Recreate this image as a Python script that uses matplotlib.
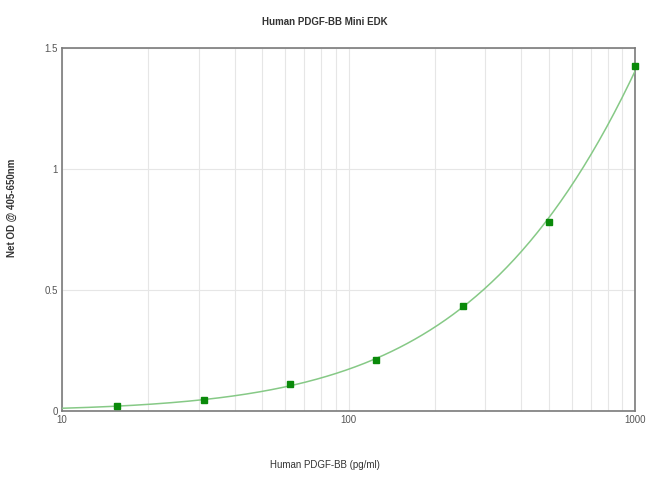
import numpy as np
import matplotlib
matplotlib.use('Agg')
import matplotlib.pyplot as plt
from matplotlib.ticker import LogLocator, FixedLocator, NullFormatter

# standard concentrations (pg/ml) and net OD
conc = [15.6, 31.25, 62.5, 125, 250, 500, 1000]
od = [0.02, 0.046, 0.11, 0.21, 0.434, 0.78, 1.426]

x_ticks = [10, 100, 1000]
x_tick_labels = ['10', '100', '1000']
y_ticks = [0, 0.5, 1, 1.5]
y_tick_labels = ['0', '0.5', '1', '1.5']

plt.rcParams['font.family'] = ['Liberation Sans', 'DejaVu Sans']

fig = plt.figure(figsize=(6.5, 4.99), dpi=100)
ax = fig.add_axes([0.0954, 0.1764, 0.882, 0.728])

# smooth fitted curve through the standards (quadratic in log-log)
coef = np.polyfit(np.log10(conc), np.log10(od), 2)
xs = np.logspace(1, 3, 300)
ax.plot(xs, 10 ** np.polyval(coef, np.log10(xs)), color='#86c986', lw=1.1, zorder=3)
ax.plot(conc, od, 's', color='#0a8a0a', ms=4.5, zorder=4, clip_on=False)

ax.set_xscale('log')
ax.set_xlim(10, 1000)
ax.set_ylim(0, 1.5)
ax.xaxis.set_major_locator(FixedLocator(x_ticks))
ax.set_xticklabels(x_tick_labels)
ax.xaxis.set_minor_locator(LogLocator(base=10, subs=np.arange(2, 10)))
ax.xaxis.set_minor_formatter(NullFormatter())
ax.set_yticks(y_ticks)
ax.set_yticklabels(y_tick_labels)

ax.grid(True, which='both', axis='x', color='#e6e6e6', lw=0.8)
ax.grid(True, which='major', axis='y', color='#e6e6e6', lw=0.8)
ax.tick_params(which='both', length=0, labelsize=7, colors='#555555', pad=3)

for s in ax.spines.values():
    s.set_color('#7a7a7a')
    s.set_linewidth(1.2)

fig.text(0.5, 0.956, 'Human PDGF-BB Mini EDK', ha='center', va='center',
         fontsize=7, fontweight='bold', color='#333333')
fig.text(0.5, 0.068, 'Human PDGF-BB (pg/ml)', ha='center', va='center',
         fontsize=7, color='#333333')
fig.text(0.019, 0.583, 'Net OD @ 405-650nm', ha='center', va='center',
         rotation=90, fontsize=7, fontweight='bold', color='#333333')

fig.savefig('out.png', dpi=100)
